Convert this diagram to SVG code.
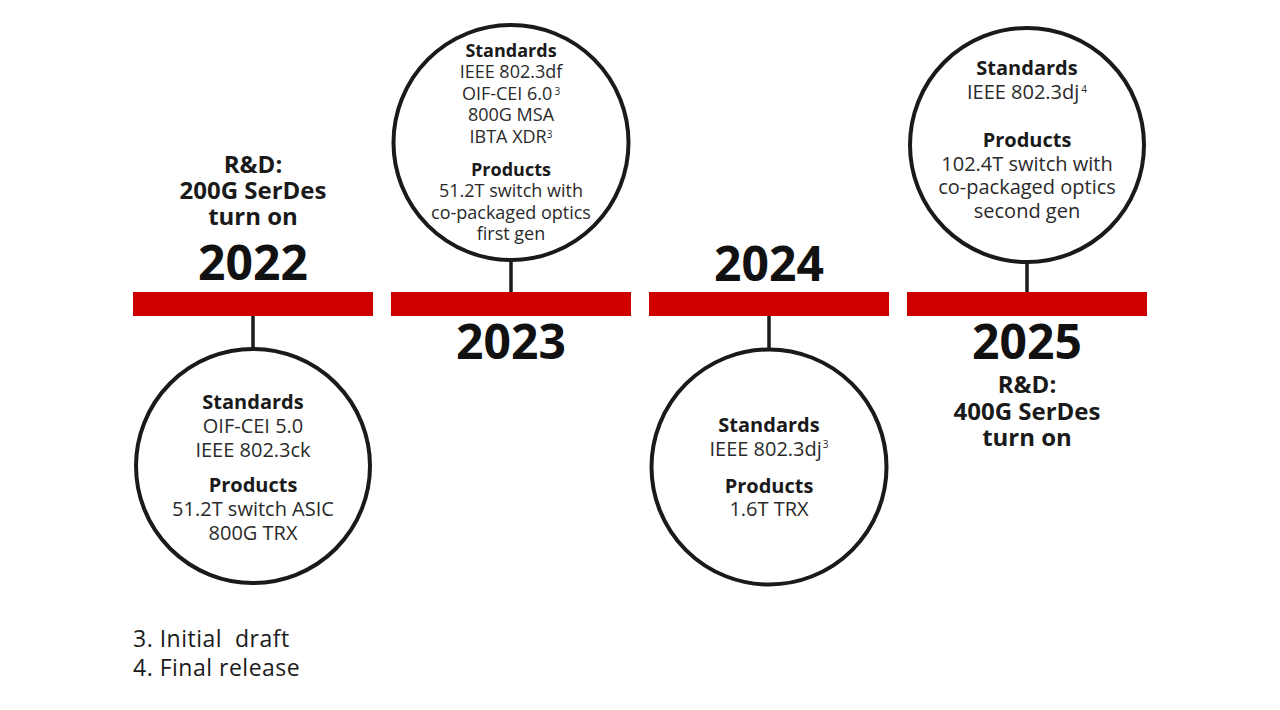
<svg xmlns="http://www.w3.org/2000/svg" width="1280" height="710" viewBox="0 0 1280 710">
<style>
.bar{fill:#d00000}
.circ{fill:#fff;stroke:#1a1a1a;stroke-width:4}
.conn{stroke:#1a1a1a;stroke-width:3.5;fill:none}
text{font-family:"Open Sans","Noto Sans","Liberation Sans",sans-serif;text-anchor:middle;fill:#1a1a1a}
.h{font-weight:700;font-size:20px}
.t{font-size:20px;fill:#2a2a2a}
.hs{font-weight:700;font-size:18px}
.ts{font-size:18px;fill:#2a2a2a}
.yr{font-weight:700;font-size:48px;fill:#111}
.rd{font-weight:700;font-size:24px}
.sup{font-size:10px}
.fn{font-size:23px;letter-spacing:0.5px;text-anchor:start;fill:#1a1a1a}
</style>
<rect width="1280" height="710" fill="#fff"/>
<g id="connectors">
<line class="conn" x1="253" y1="316" x2="253" y2="350"/>
<line class="conn" x1="511" y1="260" x2="511" y2="292"/>
<line class="conn" x1="769" y1="316" x2="769" y2="350"/>
<line class="conn" x1="1027" y1="262" x2="1027" y2="292"/>
</g>
<g id="bar-2022"><rect class="bar" x="133" y="292" width="240" height="24"/></g>
<g id="bar-2023"><rect class="bar" x="391" y="292" width="240" height="24"/></g>
<g id="bar-2024"><rect class="bar" x="649" y="292" width="240" height="24"/></g>
<g id="bar-2025"><rect class="bar" x="907" y="292" width="240" height="24"/></g>
<g id="year-2022">
<text class="rd" x="253" y="173">R&amp;D:</text>
<text class="rd" x="253" y="199">200G SerDes</text>
<text class="rd" x="253" y="225">turn on</text>
<text class="yr" x="253" y="280">2022</text>
</g>
<g id="year-2023"><text class="yr" x="511" y="359">2023</text></g>
<g id="year-2024"><text class="yr" x="769" y="281">2024</text></g>
<g id="year-2025">
<text class="yr" x="1027" y="359">2025</text>
<text class="rd" x="1027" y="393">R&amp;D:</text>
<text class="rd" x="1027" y="419.5">400G SerDes</text>
<text class="rd" x="1027" y="446">turn on</text>
</g>
<g id="node-2022">
<circle class="circ" cx="253" cy="466" r="117"/>
<text class="h" x="253" y="408.5">Standards</text>
<text class="t" x="253" y="432.5">OIF-CEI 5.0</text>
<text class="t" x="253" y="456.5">IEEE 802.3ck</text>
<text class="h" x="253" y="492">Products</text>
<text class="t" x="253" y="516">51.2T switch ASIC</text>
<text class="t" x="253" y="540">800G TRX</text>
</g>
<g id="node-2023">
<circle class="circ" cx="511" cy="142.5" r="117.5"/>
<text class="hs" x="511" y="57">Standards</text>
<text class="ts" x="511" y="78">IEEE 802.3df</text>
<text class="ts" x="511" y="99.5">OIF-CEI 6.0<tspan class="sup" dx="2" dy="-5">3</tspan></text>
<text class="ts" x="511" y="121">800G MSA</text>
<text class="ts" x="511" y="142.5">IBTA XDR<tspan class="sup" dy="-5">3</tspan></text>
<text class="hs" x="511" y="176">Products</text>
<text class="ts" x="511" y="197">51.2T switch with</text>
<text class="ts" x="511" y="218.5">co-packaged optics</text>
<text class="ts" x="511" y="240">first gen</text>
</g>
<g id="node-2024">
<circle class="circ" cx="769" cy="467" r="117.5"/>
<text class="h" x="769" y="432">Standards</text>
<text class="t" x="769" y="456">IEEE 802.3dj<tspan class="sup" dx="1" dy="-8">3</tspan></text>
<text class="h" x="769" y="492.5">Products</text>
<text class="t" x="769" y="516">1.6T TRX</text>
</g>
<g id="node-2025">
<circle class="circ" cx="1027" cy="145" r="117"/>
<text class="h" x="1027" y="75">Standards</text>
<text class="t" x="1027" y="99">IEEE 802.3dj<tspan class="sup" dx="2" dy="-6">4</tspan></text>
<text class="h" x="1027" y="147">Products</text>
<text class="t" x="1027" y="170.5">102.4T switch with</text>
<text class="t" x="1027" y="194">co-packaged optics</text>
<text class="t" x="1027" y="218">second gen</text>
</g>
<g id="footnotes">
<text class="fn" x="133" y="647" xml:space="preserve">3. Initial  draft</text>
<text class="fn" x="133" y="676">4. Final release</text>
</g>
</svg>
